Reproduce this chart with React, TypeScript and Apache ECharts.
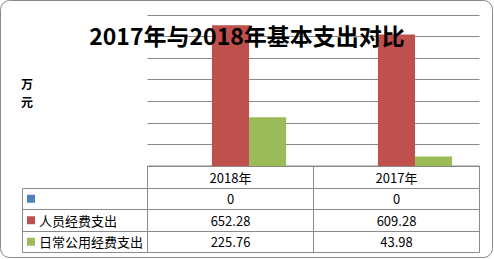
import React, { useEffect, useRef } from "react";
import * as echarts from "echarts";

const categories = ["2018年", "2017年"];
const seriesNames = ["", "人员经费支出", "日常公用经费支出"];
const blankValues = [0, 0];
const personnelValues = [652.28, 609.28];
const publicValues = [225.76, 43.98];
const seriesColors = ["#4F81BD", "#C0504D", "#9BBB59"];
const titleText = "2017年与2018年基本支出对比";
const unitChars = ["万", "元"];

const W = 494;
const H = 259;
const PLOT_L = 147.5;
const PLOT_R = 479.5;
const PLOT_T = 15;
const BASE = 166;
const TABLE_L = 22.5;
const ROW_H = 21.5;
const GRID_COLOR = "#8a8a8a";
const FONT = "'Noto Sans CJK SC', 'Noto Sans', sans-serif";

export default function App() {
  const ref = useRef<HTMLDivElement>(null);
  useEffect(() => {
    if (!ref.current) return;
    const chart = echarts.init(ref.current, undefined, { renderer: "svg" });
    const allValues = [blankValues, personnelValues, publicValues];
    const colW = (PLOT_R - PLOT_L) / categories.length;
    const graphics: any[] = [];
    graphics.push({
      type: "rect",
      shape: { x: 0.5, y: 0.5, width: W - 2, height: H - 2, r: 9 },
      style: { fill: "none", stroke: GRID_COLOR, lineWidth: 1 },
    });
    const line = (x1: number, y1: number, x2: number, y2: number) => ({
      type: "line",
      shape: { x1, y1, x2, y2 },
      style: { stroke: GRID_COLOR, lineWidth: 1 },
    });
    const rowsBottom = BASE + ROW_H * (seriesNames.length + 1);
    graphics.push(line(PLOT_L, BASE, PLOT_R, BASE));
    for (let r = 1; r <= seriesNames.length + 1; r++) {
      const y = Math.round(BASE + ROW_H * r) + 0.5;
      graphics.push(line(TABLE_L, y, PLOT_R, y));
    }
    graphics.push(line(TABLE_L, Math.round(BASE + ROW_H) + 0.5, TABLE_L, Math.round(rowsBottom) + 0.5));
    for (let c = 0; c <= categories.length; c++) {
      const x = PLOT_L + colW * c;
      graphics.push(line(x, BASE, x, Math.round(rowsBottom) + 0.5));
    }
    const textStyle = { fontFamily: FONT, fontSize: 13, fill: "#000" };
    categories.forEach((cat, c) => {
      graphics.push({
        type: "text",
        x: PLOT_L + colW * (c + 0.5),
        y: BASE + ROW_H / 2 + 0.5,
        style: { ...textStyle, text: cat, align: "center", verticalAlign: "middle" },
      });
    });
    seriesNames.forEach((name, s) => {
      const cy = BASE + ROW_H * (s + 1.5) + 0.5;
      graphics.push({
        type: "rect",
        shape: { x: 27, y: cy - 4, width: 8, height: 8 },
        style: { fill: seriesColors[s] },
      });
      if (name) {
        graphics.push({
          type: "text",
          x: 39,
          y: cy,
          style: { ...textStyle, text: name, align: "left", verticalAlign: "middle" },
        });
      }
      allValues[s].forEach((v, c) => {
        graphics.push({
          type: "text",
          x: PLOT_L + colW * (c + 0.5),
          y: cy,
          style: { ...textStyle, text: String(v), align: "center", verticalAlign: "middle" },
        });
      });
    });
    unitChars.forEach((ch, i) => {
      graphics.push({
        type: "text",
        x: 27,
        y: 83 + i * 18,
        style: {
          text: ch,
          fontFamily: FONT,
          fontSize: 12,
          fontWeight: "bold",
          fill: "#000",
          align: "center",
          verticalAlign: "middle",
        },
      });
    });

    chart.setOption({
      animation: false,
      title: {
        text: titleText,
        left: "center",
        top: 18,
        textStyle: { fontFamily: FONT, fontSize: 23, fontWeight: "bold", color: "#000" },
      },
      grid: { left: PLOT_L, right: W - PLOT_R, top: PLOT_T, bottom: H - BASE, containLabel: false },
      xAxis: {
        type: "category",
        data: categories,
        axisLine: { show: false },
        axisTick: { show: false },
        axisLabel: { show: false },
      },
      yAxis: {
        type: "value",
        min: 0,
        max: 700,
        interval: 100,
        axisLine: { show: false },
        axisTick: { show: false },
        axisLabel: { show: false },
        splitLine: { lineStyle: { color: GRID_COLOR, width: 1 } },
      },
      series: seriesNames.map((name, s) => ({
        type: "bar",
        name,
        data: allValues[s],
        itemStyle: { color: seriesColors[s] },
        barGap: "0%",
        barCategoryGap: "33%",
      })),
      graphic: graphics,
    });
    return () => chart.dispose();
  }, []);
  return (
    <div
      ref={ref}
      style={{ position: "fixed", left: 0, top: 0, width: W, height: H, background: "#fff" }}
    />
  );
}
